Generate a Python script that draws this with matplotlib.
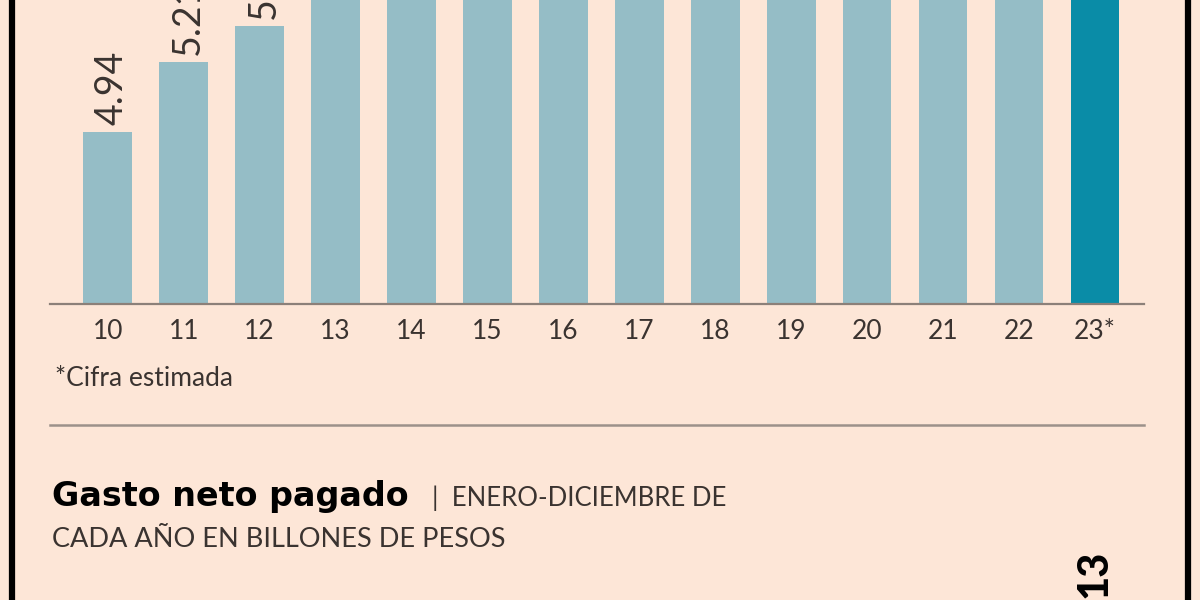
import matplotlib.pyplot as plt
from matplotlib.lines import Line2D

# datos (billones de pesos); 13-23 salen del recorte superior
years = ['10', '11', '12', '13', '14', '15', '16', '17', '18', '19', '20', '21', '22', '23*']
values = [4.94, 5.21, 5.35, 5.62, 5.93, 6.05, 6.12, 5.75, 5.85, 5.84, 6.15, 6.42, 6.81, 7.50]
value_labels = ['4.94', '5.21', '5.35', '5.62', '5.93', '6.05', '6.12', '5.75', '5.85',
                '5.84', '6.15', '6.42', '6.81', '7.50']

bg = '#fde6d7'
bar_light = '#95bdc6'
bar_dark = '#0a8ca7'
txt = '#3a3330'

W, H = 1200, 600
fig = plt.figure(figsize=(12, 6), dpi=100, facecolor=bg)

# eje de barras: linea base en y=304 px, de x=50 a x=1144 px
ax = fig.add_axes([50 / W, (H - 304) / H, (1144 - 50) / W, 304 / H])
ax.set_facecolor(bg)
x = list(range(len(years)))
colors = [bar_light] * (len(years) - 1) + [bar_dark]
ax.bar(x, values, width=0.64, color=colors, zorder=2)
ax.set_xlim(-0.76, len(years) - 1 + 0.645)
ax.set_ylim(4.276, 5.45)

# etiquetas de valor (las de 12 en adelante quedan fuera del recorte)
for xi, v, lab in zip(x, values, value_labels):
    ax.text(xi + 0.05, v + 0.026, lab, rotation=90, ha='center', va='bottom',
            fontsize=27, family='Lato', weight='normal', color=txt)

for s in ['top', 'left', 'right']:
    ax.spines[s].set_visible(False)
ax.spines['bottom'].set_color('#8c8079')
ax.spines['bottom'].set_linewidth(1.6)
ax.set_yticks([])
ax.set_xticks(x)
ax.set_xticklabels(years, fontsize=19, family='Lato', weight='normal', color=txt)
ax.tick_params(axis='x', length=0, pad=11)

# nota
fig.text(55 / W, 1 - 378 / H, '*Cifra estimada', fontsize=19, family='Lato',
         weight='normal', color=txt, ha='left', va='center')

# separador
fig.add_artist(Line2D([50 / W, 1144 / W], [1 - 425 / H, 1 - 425 / H],
                      color='#9c918a', lw=1.8))

# titulo
fig.text(52 / W, 1 - 506 / H, 'Gasto neto pagado', fontsize=24, family='DejaVu Sans',
         weight='bold', color='black', ha='left', va='baseline')
fig.text(432 / W, 1 - 506 / H, '|  ENERO-DICIEMBRE DE', fontsize=18.5, family='Lato',
         weight='normal', color=txt, ha='left', va='baseline')
fig.text(52 / W, 1 - 547 / H, 'CADA AÑO EN BILLONES DE PESOS', fontsize=19.5,
         family='Lato', weight='normal', color=txt, ha='left', va='baseline')

# numero de pagina recortado
fig.text(1095 / W, 1 - 550 / H, '13', rotation=90, fontsize=30, family='Lato',
         weight='black', color='black', ha='center', va='top')

# bordes negros
fig.add_artist(Line2D([12 / W, 12 / W], [0, 1], color='black', lw=4.5))
fig.add_artist(Line2D([1188 / W, 1188 / W], [0, 1], color='black', lw=4.5))

fig.savefig('out.png', dpi=100, facecolor=bg)
